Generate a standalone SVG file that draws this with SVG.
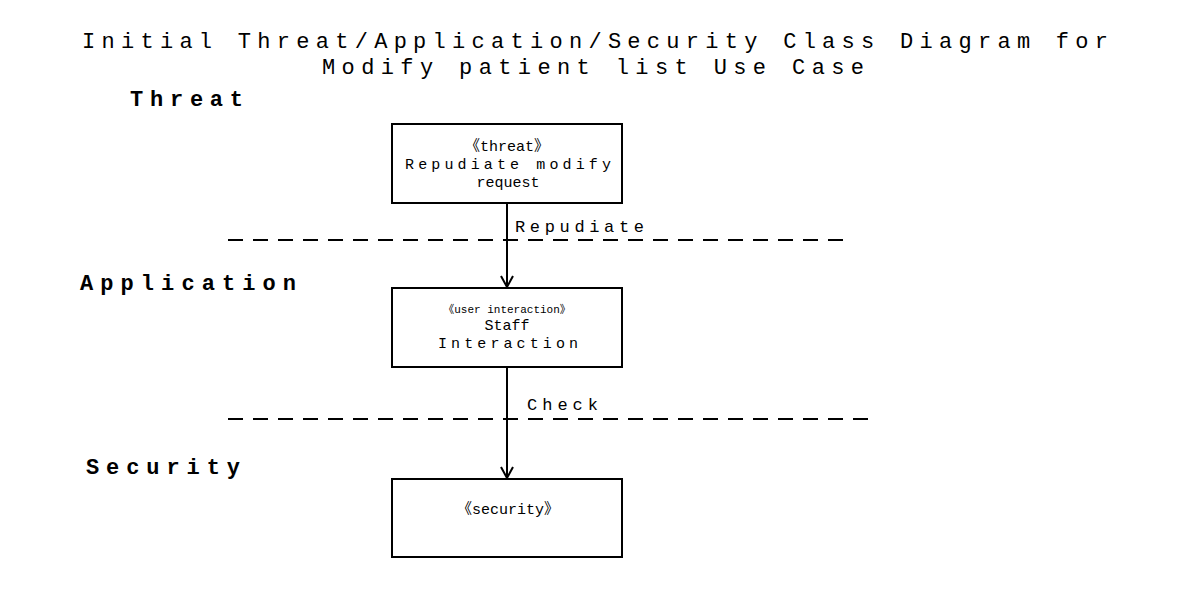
<svg xmlns="http://www.w3.org/2000/svg" width="1203" height="608" viewBox="0 0 1203 608">
<style>
text{font-family:"Liberation Mono","Noto Sans CJK SC",monospace;fill:#000}
.t{font-size:22px}
.h{font-size:22px;font-weight:bold}
.b{font-size:15px;text-anchor:middle}
.s{font-size:11px;text-anchor:middle}
.l{font-size:17px}
rect{fill:#fff;stroke:#000;stroke-width:2}
.dash{stroke:#000;stroke-width:2;stroke-dasharray:15 10;fill:none}
.c{stroke:#000;stroke-width:2;fill:none}
</style>
<defs><marker id="a" markerWidth="14" markerHeight="14" refX="12" refY="7" orient="auto" markerUnits="userSpaceOnUse"><path d="M1,1 L12,7 L1,13" fill="none" stroke="#000" stroke-width="2"/></marker></defs>
<rect x="0" y="0" width="1203" height="608" style="stroke:none"/>
<text class="t" x="82" y="48" textLength="1026" lengthAdjust="spacing">Initial Threat/Application/Security Class Diagram for</text>
<text class="t" x="322" y="74" textLength="542" lengthAdjust="spacing">Modify patient list Use Case</text>
<text class="h" x="130" y="106" textLength="113" lengthAdjust="spacing">Threat</text>
<text class="h" x="80" y="290" textLength="216" lengthAdjust="spacing">Application</text>
<text class="h" x="86" y="474" textLength="154" lengthAdjust="spacing">Security</text>
<g id="connectors">
<path class="dash" d="M228,240 H851"/>
<path class="dash" d="M228,419 H874"/>
<path class="c" d="M507,203 V287" marker-end="url(#a)"/>
<path class="c" d="M507,367 V478" marker-end="url(#a)"/>
<text class="l" x="515" y="232" textLength="129" lengthAdjust="spacing">Repudiate</text>
<text class="l" x="527" y="410" textLength="71" lengthAdjust="spacing">Check</text>
</g>
<g id="threat">
<rect x="392" y="124" width="230" height="79"/>
<text class="b" x="507" y="151">《threat》</text>
<text class="b" x="508" y="169" textLength="206" lengthAdjust="spacing">Repudiate modify</text>
<text class="b" x="508" y="187">request</text>
</g>
<g id="staff">
<rect x="392" y="288" width="230" height="79"/>
<text class="s" x="507" y="313">《user interaction》</text>
<text class="b" x="507" y="330">Staff</text>
<text class="b" x="508" y="348" textLength="140" lengthAdjust="spacing">Interaction</text>
</g>
<g id="security">
<rect x="392" y="479" width="230" height="78"/>
<text class="b" x="508" y="514">《security》</text>
</g>
</svg>
